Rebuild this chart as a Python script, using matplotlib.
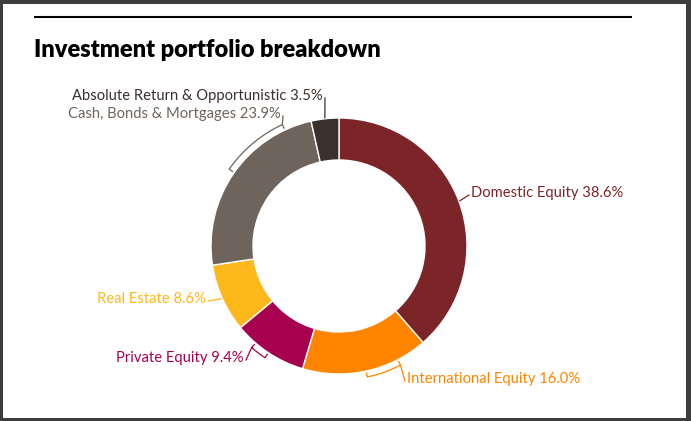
import numpy as np
import matplotlib
matplotlib.use("Agg")
import matplotlib.pyplot as plt
from matplotlib.patches import Rectangle

# ---- data ----
categories = ["Domestic Equity", "International Equity", "Private Equity",
              "Real Estate", "Cash, Bonds & Mortgages", "Absolute Return & Opportunistic"]
values = [38.6, 16.0, 9.4, 8.6, 23.9, 3.5]
colors = ["#7c2529", "#ff8400", "#a6004f", "#ffb81c", "#6f645c", "#3a302e"]
title = "Investment portfolio breakdown"

W, H = 691, 421
fig = plt.figure(figsize=(W / 100, H / 100), dpi=100)
ax = fig.add_axes([0, 0, 1, 1])

CX, CY, R, RW = 339, 246, 128, 42
ax.pie(values, colors=colors, startangle=-90, counterclock=True,
       center=(CX, CY), radius=R, frame=True,
       wedgeprops=dict(width=RW, edgecolor="white", linewidth=1.0))
ax.set_xlim(0, W)
ax.set_ylim(H, 0)
ax.set_aspect("equal")
ax.axis("off")

def pt(phi, r):
    th = np.deg2rad(phi - 90)
    return CX + r * np.cos(th), CY + r * np.sin(th)

# cumulative clock angles
cum = np.concatenate([[0], np.cumsum(values)]) / sum(values) * 360
mids = (cum[:-1] + cum[1:]) / 2

# label layout: (x, y, ha)
layout = [
    (471, 193, "left"),
    (407, 379, "left"),
    (244, 358, "right"),
    (206, 299, "right"),
    (281, 114, "right"),
    (323, 96, "right"),
]
# bracket spans (clock degrees) or None
brackets = [None, (152.7, 167.8), (213.5, 220.7), None, (305, 335), None]
text_colors = colors[:4] + ["#6f645c", "#3a302e"]

for i, (cat, v) in enumerate(zip(categories, values)):
    x, y, ha = layout[i]
    col = text_colors[i]
    ax.text(x, y, f"{cat} {v:.1f}%", color=col, ha=ha, va="center",
            fontsize=10.6, family="Lato")
    lx = x - 2 if ha == "left" else x + 2
    ly = y + 2
    if brackets[i] is None:
        sx, sy = pt(mids[i], R + 1)
        ax.plot([sx, lx], [sy, ly], color=col, lw=0.9)
    else:
        a0, a1 = brackets[i]
        ra, rt = R + 6, R + 2
        ang = np.linspace(a0, a1, 40)
        xs, ys = pt(ang, ra)
        t0 = pt(a0, rt)
        t1 = pt(a1, rt)
        bx = np.concatenate([[t0[0]], xs, [t1[0]]])
        by = np.concatenate([[t0[1]], ys, [t1[1]]])
        ax.plot(bx, by, color=col, lw=0.9)
        e0 = pt(a0, ra)
        e1 = pt(a1, ra)
        e = e0 if np.hypot(e0[0] - lx, e0[1] - ly) < np.hypot(e1[0] - lx, e1[1] - ly) else e1
        ax.plot([e[0], lx], [e[1], ly], color=col, lw=0.9)

# title and rule
ax.plot([34, 632], [17, 17], color="black", lw=1.5, solid_capstyle="butt")
ax.text(34, 57, title, ha="left", va="baseline", fontsize=17,
        fontweight="heavy", family="Lato", color="black")

# frame border
bc = "#3d3d3d"
for (x0, y0, w, h) in [(0, 0, W, 3.5), (0, H - 3.5, W, 3.5), (0, 0, 3, H), (W - 4.5, 0, 4.5, H)]:
    ax.add_patch(Rectangle((x0, y0), w, h, color=bc, lw=0, zorder=10))

fig.savefig("out.png", dpi=100)
